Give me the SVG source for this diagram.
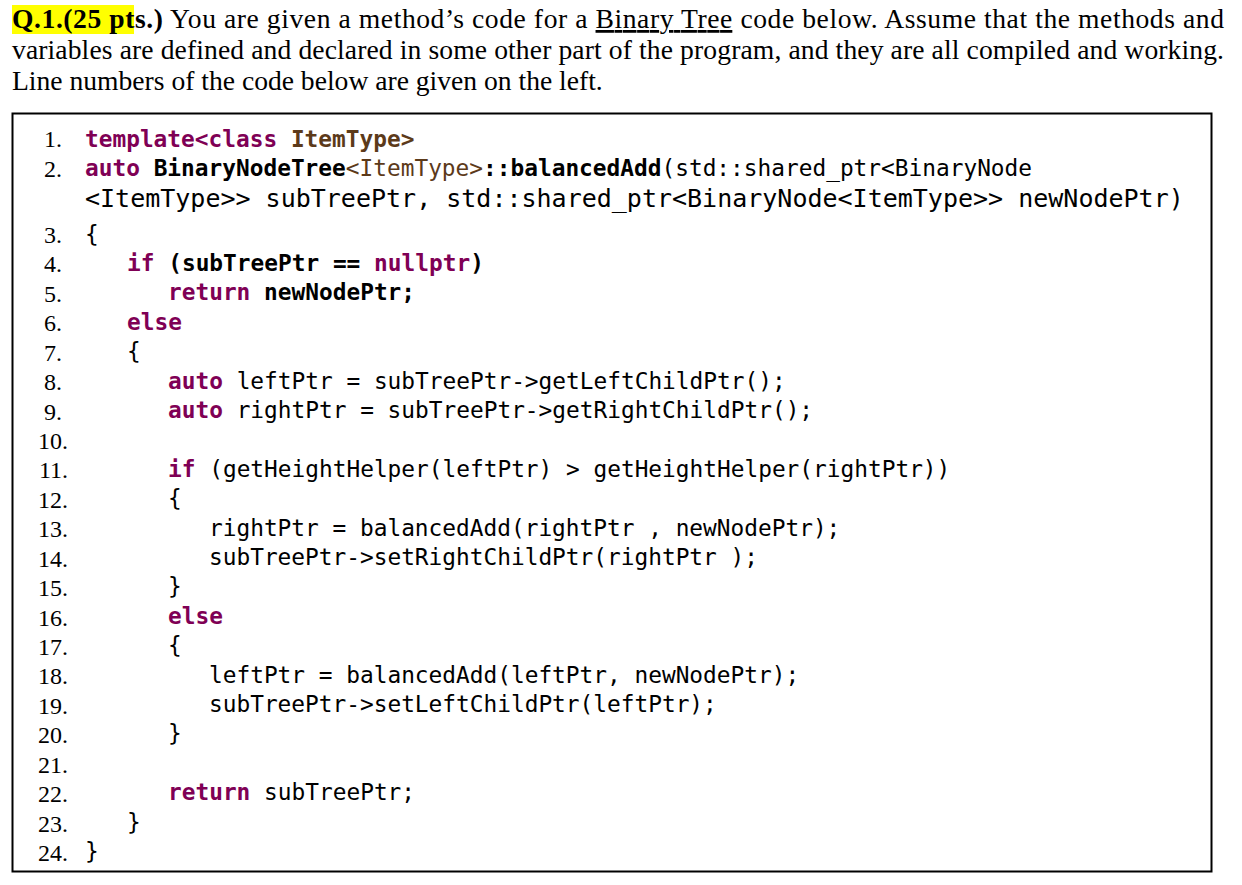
<svg xmlns="http://www.w3.org/2000/svg" width="1242" height="885" viewBox="0 0 1242 885">
<style>
.h{font-family:"Liberation Serif",serif;font-size:27.6px;fill:#000}
.c{font-family:"DejaVu Sans Mono","Liberation Mono",monospace;font-size:22.8px;fill:#000;white-space:pre}
.n{font-family:"Liberation Serif",serif;font-size:24px;fill:#000;text-anchor:end}
.k{fill:#7f0055;font-weight:bold}
.t{fill:#5c3a1a}
.b{font-weight:bold}
</style>
<rect width="1242" height="885" fill="#fff"/>
<rect x="12" y="5" width="122" height="29" fill="#ffff00"/>
<text class="h" x="12" y="28" textLength="1212" lengthAdjust="spacing"><tspan font-weight="bold">Q.1.(25 pts.)</tspan> You are given a method’s code for a <tspan text-decoration="underline">Binary Tree</tspan> code below. Assume that the methods and</text>
<text class="h" x="12" y="59" textLength="1212" lengthAdjust="spacing">variables are defined and declared in some other part of the program, and they are all compiled and working.</text>
<text class="h" x="12" y="90">Line numbers of the code below are given on the left.</text>
<rect x="12.5" y="113.5" width="1199" height="758" fill="none" stroke="#000" stroke-width="2"/>
<g class="n">
<text x="62" y="147">1.</text><text x="62" y="177">2.</text><text x="62" y="243">3.</text><text x="62" y="272">4.</text><text x="62" y="302">5.</text><text x="62" y="331">6.</text><text x="62" y="361">7.</text><text x="62" y="390">8.</text><text x="62" y="420">9.</text><text x="68" y="449">10.</text><text x="68" y="478">11.</text><text x="68" y="508">12.</text><text x="68" y="537">13.</text><text x="68" y="567">14.</text><text x="68" y="596">15.</text><text x="68" y="626">16.</text><text x="68" y="655">17.</text><text x="68" y="684">18.</text><text x="68" y="714">19.</text><text x="68" y="743">20.</text><text x="68" y="773">21.</text><text x="68" y="802">22.</text><text x="68" y="832">23.</text><text x="68" y="861">24.</text>
</g>
<g class="c">
<text x="85" y="147"><tspan class="k">template&lt;class</tspan> <tspan class="t b">ItemType&gt;</tspan></text>
<text x="85" y="176"><tspan class="k">auto</tspan><tspan class="b"> BinaryNodeTree</tspan><tspan class="t">&lt;ItemType&gt;</tspan><tspan class="b">::balancedAdd</tspan>(std::shared_ptr&lt;BinaryNode</text>
<text x="85" y="207" font-size="25">&lt;ItemType&gt;&gt; subTreePtr, std::shared_ptr&lt;BinaryNode&lt;ItemType&gt;&gt; newNodePtr)</text>
<text x="85" y="242">{</text>
<text x="127" y="271"><tspan class="k">if</tspan> <tspan class="b">(subTreePtr ==</tspan> <tspan class="k">nullptr</tspan><tspan class="b">)</tspan></text>
<text x="168" y="300"><tspan class="k">return</tspan> <tspan class="b">newNodePtr;</tspan></text>
<text x="127" y="330"><tspan class="k">else</tspan></text>
<text x="127" y="359">{</text>
<text x="168" y="389"><tspan class="k">auto</tspan> leftPtr = subTreePtr-&gt;getLeftChildPtr();</text>
<text x="168" y="418"><tspan class="k">auto</tspan> rightPtr = subTreePtr-&gt;getRightChildPtr();</text>
<text x="168" y="477"><tspan class="k">if</tspan> (getHeightHelper(leftPtr) &gt; getHeightHelper(rightPtr))</text>
<text x="168" y="506">{</text>
<text x="209" y="536">rightPtr = balancedAdd(rightPtr , newNodePtr);</text>
<text x="209" y="565">subTreePtr-&gt;setRightChildPtr(rightPtr );</text>
<text x="168" y="594">}</text>
<text x="168" y="624"><tspan class="k">else</tspan></text>
<text x="168" y="653">{</text>
<text x="209" y="683">leftPtr = balancedAdd(leftPtr, newNodePtr);</text>
<text x="209" y="712">subTreePtr-&gt;setLeftChildPtr(leftPtr);</text>
<text x="168" y="741">}</text>
<text x="168" y="800"><tspan class="k">return</tspan> subTreePtr;</text>
<text x="127" y="830">}</text>
<text x="85" y="859">}</text>
</g>
</svg>
